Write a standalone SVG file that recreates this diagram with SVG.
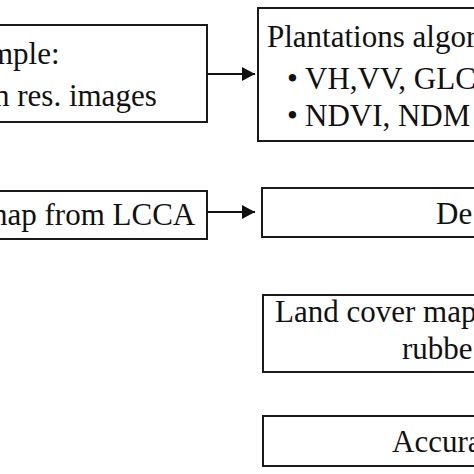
<svg xmlns="http://www.w3.org/2000/svg" width="474" height="474" viewBox="0 0 474 474">
<style>
.box{fill:#fff;stroke:#1a1a1a;stroke-width:2}
.t{font-family:"Liberation Serif","Times New Roman",serif;font-size:31px;fill:#111}
.c{stroke:#111;stroke-width:2;fill:none}
</style>
<defs>
<marker id="ah" markerWidth="14" markerHeight="14" refX="13" refY="7" orient="auto" markerUnits="userSpaceOnUse">
<path d="M0,0 L13,7 L0,14 z" fill="#111"/>
</marker>
</defs>
<rect width="474" height="474" fill="#fff"/>
<g id="sample">
<rect class="box" x="-10" y="25" width="217" height="97"/>
<text class="t" x="-11" y="64">mple:</text>
<text class="t" x="-6" y="106">n res. images</text>
</g>
<g id="plantations">
<rect class="box" x="258" y="8" width="240" height="133"/>
<text class="t" x="267" y="47">Plantations algor</text>
<text class="t" y="89"><tspan x="287">•</tspan><tspan x="305">VH,VV, GLC</tspan></text>
<text class="t" y="126"><tspan x="287">•</tspan><tspan x="305">NDVI, NDM</tspan></text>
</g>
<g id="lcca">
<rect class="box" x="-10" y="191" width="217" height="48"/>
<text class="t" x="-8" y="225">nap from LCCA</text>
</g>
<g id="decision">
<rect class="box" x="262" y="188" width="240" height="49"/>
<text class="t" x="436" y="224">De</text>
</g>
<g id="landcover">
<rect class="box" x="263" y="295" width="240" height="77"/>
<text class="t" x="275" y="322">Land cover map</text>
<text class="t" x="402" y="359">rubbe</text>
</g>
<g id="accuracy">
<rect class="box" x="263" y="416" width="240" height="50"/>
<text class="t" x="392" y="452">Accura</text>
</g>
<g id="connectors">
<line class="c" x1="207" y1="74" x2="255" y2="74" marker-end="url(#ah)"/>
<line class="c" x1="207" y1="212" x2="255" y2="212" marker-end="url(#ah)"/>
</g>
</svg>
